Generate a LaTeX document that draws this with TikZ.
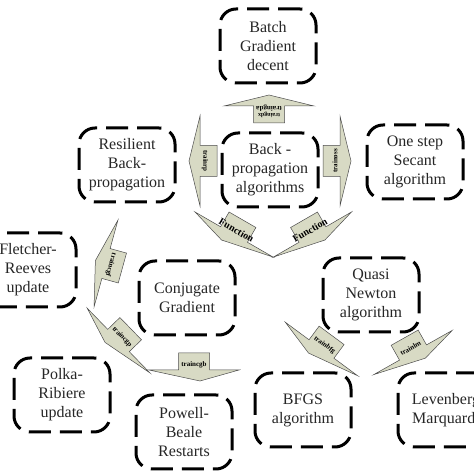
\documentclass[tikz,border=0pt]{standalone}
\usepackage{fontspec}
\setmainfont{Liberation Serif}
\usepackage{tikz}
\usetikzlibrary{positioning}

\definecolor{arrowfill}{RGB}{216,218,196}

\begin{document}
\begin{tikzpicture}[
  x=1pt, y=1pt,
  algobox/.style={draw=black, line width=3pt, dash pattern=on 22pt off 9pt, rounded corners=16pt,
    minimum width=96pt, minimum height=74pt, align=center, text=black!85,
    font=\fontsize{16}{19}\selectfont},
  arrowbody/.style={draw=black!70, line width=0.5pt, fill=arrowfill, line join=miter},
  arrowlabel/.style={font=\fontsize{7}{7}\selectfont\bfseries, inner sep=0pt, align=center},
  pics/blockarrow/.style 2 args={code={
    \draw[arrowbody] (-45,0) -- (#1,-11) -- (45,0) -- (15.5,0) -- (15.5,17) -- (-15.5,17) -- (-15.5,0) -- cycle;
    \node[arrowlabel] (-label) at (0,5) {#2};
  }}
]
\useasboundingbox (0,0) rectangle (474,474);

% algorithm boxes
\node[algobox] (batch) at (268,428) {Batch\\Gradient\\decent};
\node[algobox] (backprop) at (270,304) {Back -\\propagation\\algorithms};
\node[algobox] (resilient) at (127,309) {Resilient\\Back-\\propagation};
\node[algobox] (secant) at (415,312) {One step\\Secant\\algorithm};
\node[algobox] (fletcher) at (28,204) {Fletcher-\\Reeves\\update};
\node[algobox] (conjugate) at (187,176) {Conjugate\\Gradient};
\node[algobox] (quasi) at (371,179) {Quasi\\Newton\\algorithm};
\node[algobox] (polka) at (62,79) {Polka-\\Ribiere\\update};
\node[algobox] (powell) at (184,42) {Powell-\\Beale\\Restarts};
\node[algobox] (bfgs) at (303,64) {BFGS\\algorithm};
\node[algobox] (levenberg) at (446,64) {Levenberg\\Marquardt};

% block arrows
\pic[rotate=180, transform shape] (gd) at (269,368) {blockarrow={0}{\fontsize{6}{7}\selectfont traingdx\\traingda}};
\pic[rotate=-90, transform shape] (rp) at (200,313) {blockarrow={0}{trainrp}};
\pic[rotate=90, transform shape] (oss) at (340,313) {blockarrow={0}{trainoss}};
\pic[rotate=-30, transform shape] (fnl) at (234,239.5) {blockarrow={-8}{\fontsize{10}{10}\selectfont Function}};
\pic[rotate=30, transform shape] (fnr) at (312.5,239.5) {blockarrow={8}{\fontsize{10}{10}\selectfont Function}};
\pic[rotate=-105.4, transform shape] (cgf) at (106,210.5) {blockarrow={0}{traincgf}};
\pic[rotate=-45.9, transform shape] (cgp) at (118.5,133.5) {blockarrow={-8}{traincgp}};
\pic[transform shape] (cgb) at (194,104) {blockarrow={6}{traincgb}};
\pic[rotate=-36.5, transform shape] (bfg) at (321.5,125) {blockarrow={-8}{trainbfg}};
\pic[rotate=29.4, transform shape] (lm) at (413,121.5) {blockarrow={8}{trainlm}};
\end{tikzpicture}
\end{document}
